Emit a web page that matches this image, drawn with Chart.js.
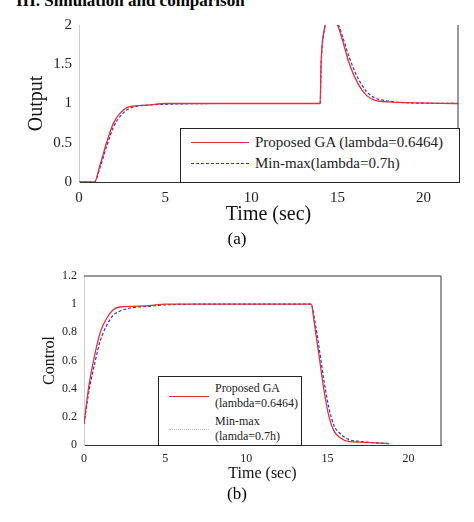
<!DOCTYPE html>
<html><head><meta charset="utf-8">
<script src="https://cdn.jsdelivr.net/npm/chart.js@4"></script>
<style>
body{margin:0;background:#fff;font-family:"Liberation Serif",serif;}
#wrap{position:relative;width:474px;height:522px;overflow:hidden;}
canvas{position:absolute;left:0;}
.cap{position:absolute;width:474px;text-align:center;font-size:17px;}
.leg{position:absolute;background:#fff;border:1px solid #222;font-family:"Liberation Serif",serif;color:#222;}
.row{display:flex;align-items:center;}
.ln{display:inline-block;width:58px;margin:0 6px 0 10px;}
</style></head><body>
<div id="wrap">
<div style="position:absolute;top:-9px;left:16px;font-weight:bold;font-size:17px;">III. Simulation and comparison</div>
<canvas id="c1" width="474" height="260" style="top:0;width:474px;height:260px"></canvas>
<canvas id="c2" width="474" height="260" style="top:260px;width:474px;height:260px"></canvas>
<div class="cap" style="top:229px">(a)</div>
<div class="cap" style="top:484px">(b)</div>
<div class="leg" style="left:180px;top:128px;width:278px;height:53px;font-size:15px;">
 <div class="row" style="margin-top:5px"><span class="ln" style="border-top:1.5px solid #e0303a"></span>Proposed GA (lambda=0.6464)</div>
 <div class="row" style="margin-top:4px"><span class="ln" style="border-top:1.5px dashed #3030d0"></span>Min-max(lambda=0.7h)</div>
</div>
<div class="leg" style="left:158px;top:376px;width:142px;height:68px;font-size:12px;line-height:15px;">
 <div class="row" style="margin-top:4px"><span class="ln" style="border-top:1.5px solid #e0303a;width:40px"></span><span>Proposed GA<br>(lambda=0.6464)</span></div>
 <div class="row" style="margin-top:3px"><span class="ln" style="border-top:1.5px dotted #bbb;width:40px"></span><span>Min-max<br>(lamda=0.7h)</span></div>
</div>
</div>
<script>
// (a) output response
const tA = [0, 0.9, 1.2, 1.6, 2.0, 2.4, 2.8, 3.2, 4, 5, 8, 12, 14, 14.05, 14.2, 14.5, 15.0, 15.3, 15.7, 16.2, 16.7, 17.2, 18, 19, 22];
const gaA = [0, 0, 0.2, 0.5, 0.75, 0.88, 0.95, 0.97, 0.98, 1, 1, 1, 1, 1.5, 1.9, 2.05, 2.0, 1.8, 1.5, 1.25, 1.1, 1.04, 1.02, 1.01, 1.0];
const mmA = [0, 0, 0.17, 0.45, 0.7, 0.84, 0.92, 0.96, 0.98, 0.99, 1, 1, 1, 1.45, 1.88, 2.05, 2.02, 1.85, 1.58, 1.32, 1.15, 1.07, 1.03, 1.01, 1.0];
// (b) control signal
const tB = [0, 0.3, 0.7, 1.0, 1.4, 1.8, 2.2, 3, 4, 5, 8, 12, 14, 14.2, 14.5, 14.8, 15.1, 15.4, 15.8, 16.3, 17, 18, 18.8];
const gaB = [0.15, 0.42, 0.66, 0.8, 0.9, 0.96, 0.98, 0.985, 0.99, 1, 1, 1, 1, 0.86, 0.62, 0.38, 0.2, 0.1, 0.05, 0.025, 0.02, 0.015, 0.01];
const mmB = [0.15, 0.38, 0.6, 0.74, 0.85, 0.92, 0.95, 0.975, 0.985, 0.995, 1, 1, 1, 0.9, 0.68, 0.45, 0.26, 0.14, 0.08, 0.04, 0.025, 0.015, 0.01];
const ticksA = [0, 0.5, 1, 1.5, 2];
const ticksB = [0, 0.2, 0.4, 0.6, 0.8, 1, 1.2];

const pts = (xs, ys) => xs.map((x, i) => ({x: x, y: ys[i]}));

function makeChart(id, t, ga, mm, yt, ymax, o) {
  new Chart(document.getElementById(id), {
    type: 'line',
    data: {datasets: [
      {data: pts(t, ga), borderColor: '#e0303a', borderWidth: 1.3, pointRadius: 0, cubicInterpolationMode: 'monotone'},
      {data: pts(t, mm), borderColor: '#3030d0', borderWidth: 1.2, borderDash: [3, 2], pointRadius: 0, cubicInterpolationMode: 'monotone'}
    ]},
    options: {
      responsive: false, animation: false,
      layout: {padding: {left: o.pl, top: o.top, right: o.right, bottom: o.pb}},
      plugins: {legend: {display: false}, tooltip: {enabled: false}},
      scales: {
        x: {type: 'linear', min: 0, max: 22,
          afterBuildTicks: a => { a.ticks = [0, 5, 10, 15, 20].map(v => ({value: v})); },
          afterFit: a => { a.height = o.xh; },
          grid: {display: false, drawTicks: true, tickLength: 4, tickColor: '#333'},
          border: {color: '#333'},
          ticks: {color: '#222', font: {family: 'Liberation Serif', size: o.fs}, maxRotation: 0, callback: v => String(v)},
          title: {display: true, text: 'Time (sec)', color: '#111', font: {family: 'Liberation Serif', size: o.ts}, padding: 0}},
        y: {min: 0, max: ymax,
          afterBuildTicks: a => { a.ticks = yt.map(v => ({value: v})); },
          afterFit: a => { a.width = o.yw; },
          grid: {display: false, tickLength: 4, tickColor: '#333'},
          border: {color: '#ccc'},
          ticks: {color: '#222', font: {family: 'Liberation Serif', size: o.fs}, callback: v => String(v)},
          title: {display: true, text: o.yl, color: '#111', font: {family: 'Liberation Serif', size: o.ts}, padding: 0}}
      }
    },
    plugins: [{id: 'frame', afterDraw(c) {
      const a = c.chartArea, g = c.ctx;
      g.save(); g.strokeStyle = '#333'; g.lineWidth = 1;
      g.beginPath(); g.moveTo(a.right, a.bottom); g.lineTo(a.right, a.top);
      if (o.topLine) g.lineTo(a.left, a.top);
      g.stroke(); g.restore();
    }}]
  });
}
makeChart('c1', tA, gaA, mmA, ticksA, 2, {pl: 25, top: 25, right: 16, pb: 33, xh: 45, yw: 54, fs: 15, ts: 20, yl: 'Output', topLine: false});
makeChart('c2', tB, gaB, mmB, ticksB, 1.2, {pl: 40, top: 16, right: 33, pb: 37, xh: 38, yw: 44, fs: 12, ts: 16, yl: 'Control', topLine: true});
</script>
</body></html>
